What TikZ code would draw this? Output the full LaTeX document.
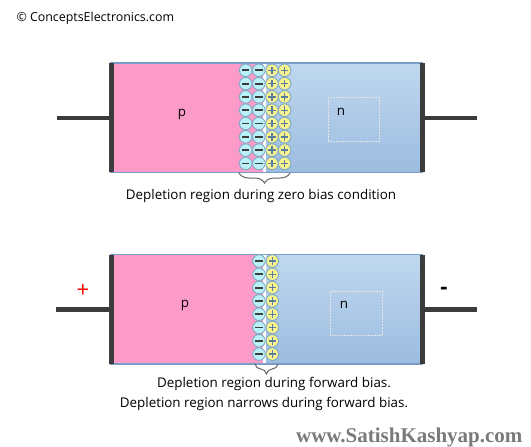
\documentclass[tikz,border=0pt]{standalone}
\usepackage{fontspec}
\setmainfont{Open Sans}
\usepackage{xcolor}
\usetikzlibrary{positioning,calc,decorations.pathreplacing}

\definecolor{pinkside}{HTML}{FD9BC8}
\definecolor{blueup}{HTML}{BFD8EF}
\definecolor{bluedown}{HTML}{9CBCE0}
\definecolor{edgeblue}{HTML}{7A9CC6}
\definecolor{bardark}{HTML}{3C3C3C}
\definecolor{negfill}{HTML}{BAF1F8}
\definecolor{posfill}{HTML}{F7F38E}
\definecolor{ionedge}{HTML}{7FA8C4}
\definecolor{plussign}{HTML}{5A7C9E}

\begin{document}
\begin{tikzpicture}[
    x=1pt, y=-1pt,
    every node/.style={font=\fontsize{13.4}{16}\selectfont},
    pside/.style={fill=pinkside, minimum width=152pt, minimum height=109pt, inner sep=0pt, anchor=north west},
    nside/.style={top color=blueup, bottom color=bluedown, minimum width=156pt, minimum height=109pt, inner sep=0pt, anchor=north west},
    endbar/.style={line width=5pt, draw=bardark},
    lead/.style={line width=4.5pt, draw=bardark},
    negion/.style={circle, minimum size=12.6pt, inner sep=0pt, fill=negfill, draw=ionedge, line width=0.9pt,
        path picture={\draw[line width=1.8pt, bardark] ([xshift=-3.7pt]path picture bounding box.center) -- ([xshift=3.7pt]path picture bounding box.center);}},
    posion/.style={circle, minimum size=12.6pt, inner sep=0pt, fill=posfill, draw=ionedge, line width=0.9pt,
        path picture={\draw[line width=1.4pt, plussign] ([xshift=-3.8pt]path picture bounding box.center) -- ([xshift=3.8pt]path picture bounding box.center)
            ([yshift=-3.8pt]path picture bounding box.center) -- ([yshift=3.8pt]path picture bounding box.center);}},
    textbox/.style={draw=gray!20, densely dotted, line width=0.5pt, inner sep=0pt},
    depl/.style={decorate, decoration={brace, mirror, amplitude=10pt}, draw=bardark!80, line width=1pt}
]
\useasboundingbox (0,0) rectangle (531,447);

\node[anchor=west, font=\fontsize{12.4}{14}\selectfont] (copy) at (13,18) {© ConceptsElectronics.com};

% zero bias diode
\node[pside] (ptop) at (111,63) {};
\node[nside] (ntop) at (266,63) {};
\draw[edgeblue, line width=1.2pt] (ptop.north west) rectangle (ntop.south east);
\draw[endbar] (ptop.north west) -- (ptop.south west);
\draw[endbar] (ntop.north east) -- (ntop.south east);
\coordinate (lefttop) at (57,118);
\coordinate (righttop) at (477,118);
\draw[lead] (lefttop) -- (lefttop -| ptop.west);
\draw[lead] (righttop -| ntop.east) -- (righttop);
\node (plabtop) at (182,114) {p};
\node[textbox, minimum width=51pt, minimum height=44pt] (boxtop) at (353.5,119) {};
\node (nlabtop) at (341,112) {n};
\foreach \r in {0,...,7}{
    \foreach \c in {0,1}{
        \node[negion] (na\c\r) at (245.7+13.2*\c, 70.3+13.3*\r) {};
        \node[posion] (pa\c\r) at (272+12.6*\c, 70.3+13.3*\r) {};
    }
}
\draw[depl] (239,173) -- (290,173);
\node (captop) at (261,196) {Depletion region during zero bias condition};

% forward bias diode
\node[pside] (pbot) at (111,254.5) {};
\node[nside] (nbot) at (266,254.5) {};
\draw[edgeblue, line width=1.2pt] (pbot.north west) rectangle (nbot.south east);
\draw[endbar] (pbot.north west) -- (pbot.south west);
\draw[endbar] (nbot.north east) -- (nbot.south east);
\coordinate (leftbot) at (56,309.5);
\coordinate (rightbot) at (477,309.5);
\draw[lead] (leftbot) -- (leftbot -| pbot.west);
\draw[lead] (rightbot -| nbot.east) -- (rightbot);
\node[text=red, font=\fontsize{22}{22}\selectfont] (plus) at (83,291) {+};
\node[font=\fontsize{22}{22}\selectfont\bfseries] (minus) at (444,291) {-};
\node (plabbot) at (185,305) {p};
\node[textbox, minimum width=52pt, minimum height=44pt] (boxbot) at (356,313) {};
\node (nlabbot) at (344,305) {n};
\foreach \r in {0,...,7}{
    \node[negion] (nb\r) at (259,261+13.3*\r) {};
    \node[posion] (pb\r) at (272.3,261+13.3*\r) {};
}
\draw[depl] (255,364) -- (278,364);
\node (capbot) at (274,384) {Depletion region during forward bias.};
\node (capbotb) at (264,404) {Depletion region narrows during forward bias.};

\node[anchor=east, text=black!52, font=\fontsize{21}{22}\fontspec{Liberation Serif}\bfseries] (site) at (526,437) {www.SatishKashyap.com};
\end{tikzpicture}
\end{document}
